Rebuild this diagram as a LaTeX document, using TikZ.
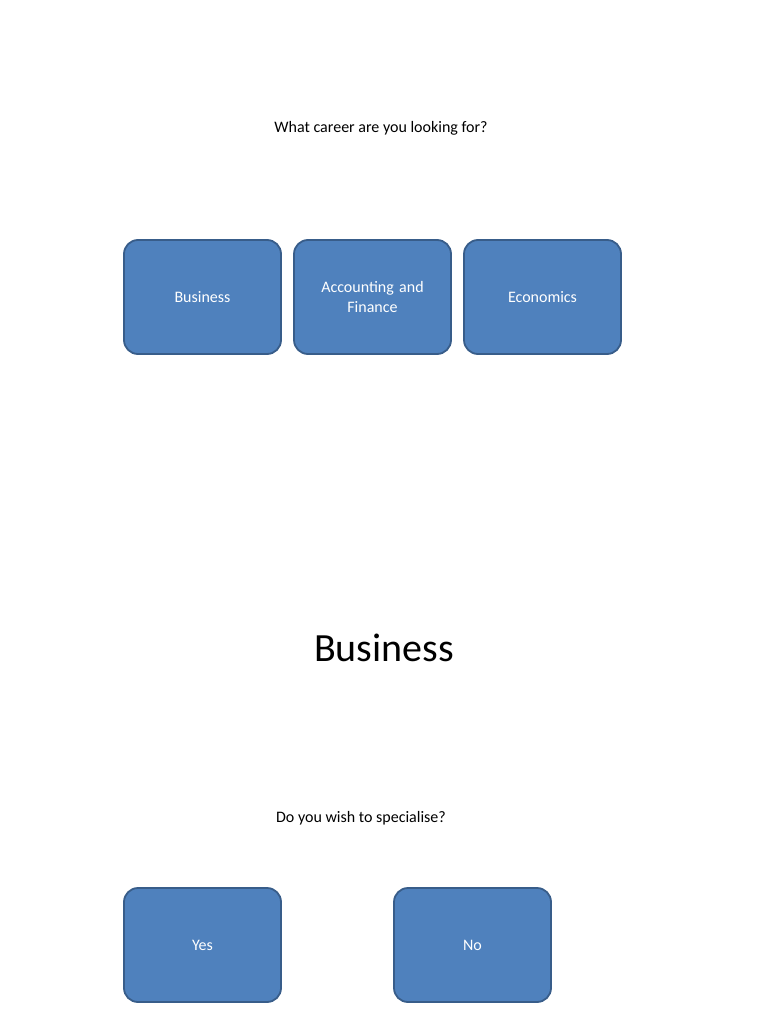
\documentclass[tikz,border=0pt]{standalone}
\usepackage{fontspec}
\setmainfont{Carlito}
\definecolor{boxfill}{HTML}{4F81BD}
\definecolor{boxline}{HTML}{385D8A}
\begin{document}
\begin{tikzpicture}[x=1pt,y=-1pt,
  bx/.style={draw=boxline,line width=1.8pt,fill=boxfill,rounded corners=14pt,minimum width=157pt,minimum height=114pt,text=white,font=\fontsize{16}{20}\selectfont,align=center,text width=140pt},
  lbl/.style={font=\fontsize{16}{20}\selectfont}]
\useasboundingbox (0,0) rectangle (768,1024);
\node[lbl] (q1) at (381,128) {What career are you looking for?};
\node[bx] (b1) at (202.5,297) {Business};
\node[bx] (b2) at (372.5,297) {Accounting and\\Finance};
\node[bx] (b3) at (542.5,297) {Economics};
\node[font=\fontsize{40}{48}\selectfont] (t) at (384,648) {Business};
\node[lbl] (q2) at (361,818) {Do you wish to specialise?};
\node[bx] (y) at (202.5,945) {Yes};
\node[bx] (n) at (472.5,945) {No};
\end{tikzpicture}
\end{document}
